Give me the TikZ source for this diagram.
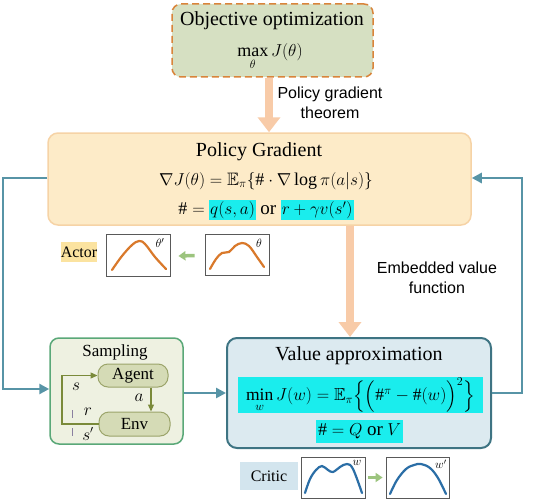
\documentclass[tikz,border=0pt]{standalone}
\usepackage{amsmath,amssymb}
\usepackage{fontspec}
\setmainfont{Liberation Serif}
\newfontfamily\arialfont{Liberation Sans}
\usetikzlibrary{arrows.meta,calc}
\definecolor{objfill}{HTML}{D6E0C2}
\definecolor{objdraw}{HTML}{D9843A}
\definecolor{pgfill}{HTML}{FDEBC8}
\definecolor{pgdraw}{HTML}{F6D3A6}
\definecolor{bigarrow}{HTML}{F8CBA8}
\definecolor{blueline}{HTML}{5794A6}
\definecolor{sampfill}{HTML}{EEF1E1}
\definecolor{sampdraw}{HTML}{5AA878}
\definecolor{agentfill}{HTML}{D5DBB6}
\definecolor{agentdraw}{HTML}{9BA46A}
\definecolor{innerarrow}{HTML}{7A8A3A}
\definecolor{valfill}{HTML}{DCEAF0}
\definecolor{valdraw}{HTML}{3E7483}
\definecolor{hl}{HTML}{1AEDED}
\definecolor{actorfill}{HTML}{FBE3A0}
\definecolor{criticfill}{HTML}{D3E5EE}
\definecolor{curveo}{HTML}{D9792B}
\definecolor{curveb}{HTML}{2B6EA6}
\definecolor{smallgreen}{HTML}{9CC47E}
\definecolor{barcol}{HTML}{8A80A0}
\tikzset{
  objbox/.style={draw=objdraw, fill=objfill, dashed, dash pattern=on 7pt off 4pt, line width=1.5pt, rounded corners=9pt},
  pgbox/.style={draw=pgdraw, fill=pgfill, line width=1.5pt, rounded corners=10pt},
  sampbox/.style={draw=sampdraw, fill=sampfill, line width=1.5pt, rounded corners=9pt},
  valbox/.style={draw=valdraw, fill=valfill, line width=2pt, rounded corners=10pt},
  inbox/.style={draw=agentdraw, fill=agentfill, line width=1pt, rounded corners=10pt},
  bigarr/.style={draw=bigarrow, line width=8pt, -{Triangle[width=22pt,length=15pt]}},
  fb/.style={draw=blueline, line width=2.5pt, -{Triangle[width=10pt,length=10pt]}},
  inarr/.style={draw=innerarrow, line width=1.2pt, -{Triangle[width=6pt,length=7pt]}},
  plotbox/.style={draw=black!65, line width=0.8pt, fill=white, inner sep=0pt},
  grarr/.style={draw=smallgreen, line width=3.5pt, -{Triangle[width=9pt,length=7pt]}},
  ocurve/.style={draw=curveo, line width=2.2pt, line cap=round},
  bcurve/.style={draw=curveb, line width=2.2pt, line cap=round},
  serif/.style={font=\rmfamily\fontsize{20}{22}\selectfont, inner sep=0pt},
  sans/.style={font=\arialfont\fontsize{16}{20}\selectfont, align=center, inner sep=0pt},
  mth/.style={font=\rmfamily\fontsize{18}{20}\selectfont, inner sep=0pt},
  lbl/.style={font=\rmfamily\fontsize{16}{18}\selectfont, inner sep=0pt},
}
\begin{document}
\begin{tikzpicture}[x=1pt,y=-1pt]
\useasboundingbox (0,0) rectangle (545,500);
% Objective
\node[objbox, minimum width=201pt, minimum height=73pt] (obj) at (272.5,40.5) {};
\node[serif] (objt) at (272,21) {Objective optimization};
\node[mth] (objm) at (270,57) {$\max\limits_{\theta} J(\theta)$};
% Policy gradient box
\node[pgbox, minimum width=423pt, minimum height=92pt] (pg) at (259.5,179) {};
\node[serif] (pgt) at (259,152) {Policy Gradient};
\node[mth] (pgm) at (266,181) {$\nabla J(\theta) = \mathbb{E}_{\pi}\{\# \cdot \nabla \log \pi(a|s)\}$};
\node[mth] (pgh) at (266,210) {\setlength{\fboxsep}{1pt}$\# = $ \colorbox{hl}{$q(s,a)$} {\rmfamily\fontsize{19}{20}\selectfont or} \colorbox{hl}{$r + \gamma v(s^{\prime})$}};
% arrow 1
\draw[bigarr] (obj.south -| 269,0) -- (pg.north -| 269,0);
\node[sans] (l1) at (330,103) {Policy gradient\\theorem};
% Actor
\node[fill=actorfill, lbl, minimum width=36pt, minimum height=20pt] (actor) at (79,252) {Actor};
\node[plotbox, minimum width=64pt, minimum height=42pt] (th1) at (138,255) {};
\node[plotbox, minimum width=64pt, minimum height=41pt] (th0) at (237,254.5) {};
\draw[ocurve] plot[smooth, tension=0.6] coordinates {(112,270) (122,256) (132,245) (139,241) (145,244) (155,257) (166,269)};
\draw[ocurve] plot[smooth, tension=0.6] coordinates {(210,269) (216,259) (222,253) (229,252) (235,246) (242,243) (249,246) (257,257) (264,267)};
\node[font=\fontsize{13}{14}\selectfont, inner sep=0pt] (th1l) at (160,243) {$\theta'$};
\node[font=\fontsize{13}{14}\selectfont, inner sep=0pt] (th0l) at (259,243) {$\theta$};
\draw[grarr] ($(th0.west)+(-10,1)$) -- ($(th1.east)+(8,1)$);
% Arrow 2
\coordinate (ex) at (350,0);
\draw[bigarr] (pg.south -| ex) -- (350,337);
\node[sans] (l2) at (437,278) {Embedded value\\function};
% Sampling
\node[sampbox, minimum width=133pt, minimum height=106pt] (samp) at (116.5,391) {};
\node[font=\rmfamily\fontsize{17}{18}\selectfont, inner sep=0pt] (sampt) at (115,352) {Sampling};
\node[inbox, minimum width=70pt, minimum height=23pt, font=\rmfamily\fontsize{17}{18}\selectfont, inner sep=0pt] (agent) at (133,375.5) {Agent};
\node[inbox, minimum width=71pt, minimum height=24pt, font=\rmfamily\fontsize{17}{18}\selectfont, inner sep=0pt] (env) at (134.5,424) {Env};
\draw[inarr] (agent.south -| 151,0) -- (env.north -| 151,0);
\coordinate (lp) at (62,0);
\draw[inarr] (env.west) -- (env.west -| lp) -- (agent.west -| lp) -- (agent.west);
\draw[barcol, line width=1pt] (72,410) -- (72,418) (72,428) -- (72,436);
\node[lbl] (sl) at (76,387) {$s$};
\node[lbl] (al) at (139,398) {$a$};
\node[lbl] (rl) at (88,412) {$r$};
\node[lbl] (spl) at (88,434) {$s^{\prime}$};
% Value
\node[valbox, minimum width=264pt, minimum height=110pt] (val) at (359,393) {};
\node[serif] (valt) at (359,356) {Value approximation};
\node[font=\rmfamily\fontsize{17.5}{20}\selectfont, inner sep=0pt, fill=hl, minimum width=245pt, minimum height=34pt] (valm) at (360.5,395) {$\min\limits_{w} J(w) = \mathbb{E}_{\pi}\Big\{\Big(\#^{\pi} - \#(w)\Big)^{2}\Big\}$};
\node[mth, fill=hl, minimum width=87pt, minimum height=23pt] (valh) at (359.5,431) {$\# = Q$ {\rmfamily\fontsize{19}{20}\selectfont or} $V$};
% Critic
\node[fill=criticfill, lbl, minimum width=58pt, minimum height=28pt] (critic) at (269,476) {Critic};
\node[plotbox, minimum width=64pt, minimum height=41pt] (w0) at (333,477.5) {};
\node[plotbox, minimum width=63pt, minimum height=41pt] (w1) at (417.5,477.5) {};
\draw[bcurve] plot[smooth, tension=0.6] coordinates {(305,493) (310,479) (316,470) (322,466) (328,470) (333,472) (340,467) (347,464) (353,469) (362,493)};
\draw[bcurve] plot[smooth, tension=0.6] coordinates {(390,494) (397,480) (406,469) (414,465) (421,464) (430,468) (438,478) (446,494)};
\node[font=\fontsize{12}{14}\selectfont, inner sep=0pt] (wl) at (357,463) {$w$};
\node[font=\fontsize{12}{14}\selectfont, inner sep=0pt] (w1l) at (441,464) {$w'$};
\draw[grarr] ($(w0.east)+(3,0)$) -- ($(w1.west)+(-3,0)$);
% Feedback lines
\coordinate (lx) at (3,0);
\coordinate (rx) at (522,0);
\draw[fb] (pg.west |- 0,178) -- (lx |- 0,178) -- (lx |- 0,389) -- (samp.west |- 0,389);
\draw[fb] (val.east |- 0,393) -- (rx |- 0,393) -- (rx |- 0,178) -- (pg.east |- 0,178);
\draw[fb] (samp.east |- 0,393) -- (val.west |- 0,393);
\end{tikzpicture}
\end{document}
